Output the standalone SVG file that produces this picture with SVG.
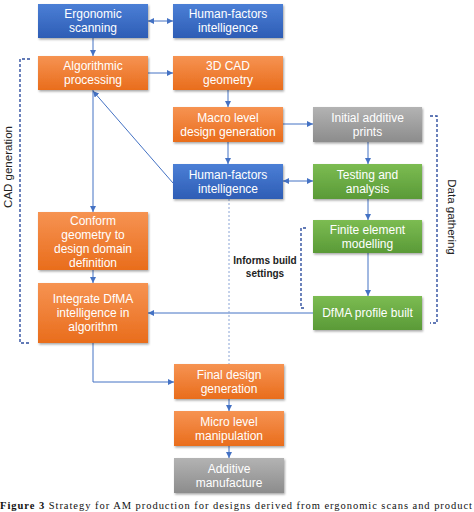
<svg xmlns="http://www.w3.org/2000/svg" width="474" height="512" viewBox="0 0 474 512">
<style>
.box{stroke:none;filter:url(#sh)}
.t{font-family:"Liberation Sans",Arial,sans-serif;font-size:12px;fill:#fff;text-anchor:middle}
.c{stroke:#4472c4;stroke-width:1;fill:none}
.br{stroke:#2f4f9f;stroke-width:1.4;fill:none;stroke-dasharray:3 2}
.lab{font-family:"Liberation Sans",Arial,sans-serif;font-size:11.5px;fill:#222;text-anchor:middle}
</style>
<defs>
<linearGradient id="gb" x1="0" y1="0" x2="0" y2="1"><stop offset="0" stop-color="#4b7fd6"/><stop offset="1" stop-color="#2e5db5"/></linearGradient>
<linearGradient id="go" x1="0" y1="0" x2="0" y2="1"><stop offset="0" stop-color="#f69352"/><stop offset="1" stop-color="#e96d1c"/></linearGradient>
<linearGradient id="gg" x1="0" y1="0" x2="0" y2="1"><stop offset="0" stop-color="#b3b3b3"/><stop offset="1" stop-color="#8c8c8c"/></linearGradient>
<linearGradient id="gn" x1="0" y1="0" x2="0" y2="1"><stop offset="0" stop-color="#7cbc52"/><stop offset="1" stop-color="#5a9a37"/></linearGradient>
<filter id="sh" x="-10%" y="-10%" width="130%" height="140%"><feDropShadow dx="1" dy="1.5" stdDeviation="1" flood-color="#000" flood-opacity="0.35"/></filter>
<marker id="a" viewBox="0 0 6 6" refX="6" refY="3" markerWidth="6" markerHeight="6" markerUnits="userSpaceOnUse" orient="auto-start-reverse"><path d="M0,0 L6,3 L0,6 z" fill="#4472c4"/></marker>
</defs>
<rect width="474" height="512" fill="#fff"/>

<g id="connectors">
<line class="c" x1="148" y1="21" x2="173" y2="21" marker-start="url(#a)" marker-end="url(#a)"/>
<line class="c" x1="93" y1="38" x2="93" y2="56" marker-end="url(#a)"/>
<line class="c" x1="148" y1="73" x2="173" y2="73" marker-end="url(#a)"/>
<line class="c" x1="228" y1="90" x2="228" y2="107" marker-end="url(#a)"/>
<line class="c" x1="283" y1="124" x2="313" y2="124" marker-end="url(#a)"/>
<line class="c" x1="228" y1="142" x2="228" y2="164" marker-end="url(#a)"/>
<line class="c" x1="173" y1="183" x2="93" y2="91" marker-end="url(#a)"/>
<line class="c" x1="93" y1="90" x2="93" y2="212" marker-end="url(#a)"/>
<line class="c" x1="93" y1="270" x2="93" y2="283" marker-end="url(#a)"/>
<line class="c" x1="283" y1="181" x2="313" y2="181" marker-start="url(#a)" marker-end="url(#a)"/>
<line class="c" x1="368" y1="142" x2="368" y2="164" marker-end="url(#a)"/>
<line class="c" x1="368" y1="199" x2="368" y2="220" marker-end="url(#a)"/>
<line class="c" x1="368" y1="253" x2="368" y2="296" marker-end="url(#a)"/>
<line class="c" x1="313" y1="313" x2="148" y2="313" marker-end="url(#a)"/>
<polyline class="c" points="93,343 93,382 174,382" marker-end="url(#a)"/>
<line x1="229" y1="199" x2="229" y2="364" stroke="#8aa4d6" stroke-width="1" stroke-dasharray="2 2"/>
<line class="c" x1="229" y1="399" x2="229" y2="411" marker-end="url(#a)"/>
<line class="c" x1="229" y1="446" x2="229" y2="458" marker-end="url(#a)"/>
<polyline class="br" points="30,59 20,59 20,343 30,343"/>
<polyline class="br" points="430,116 437,116 437,323 430,323"/>
<polyline class="br" points="306,228 301,228 301,308 306,308"/>
</g>

<g id="ergonomic"><rect class="box" x="38" y="4" width="110" height="34" fill="url(#gb)"/><text class="t" x="93" y="18.3">Ergonomic</text><text class="t" x="93" y="32.3">scanning</text></g>
<g id="hf1"><rect class="box" x="173" y="4" width="110" height="34" fill="url(#gb)"/><text class="t" x="228" y="18.3">Human-factors</text><text class="t" x="228" y="32.3">intelligence</text></g>
<g id="algorithmic"><rect class="box" x="38" y="56" width="110" height="34" fill="url(#go)"/><text class="t" x="93" y="70.3">Algorithmic</text><text class="t" x="93" y="84.3">processing</text></g>
<g id="cad"><rect class="box" x="173" y="56" width="110" height="34" fill="url(#go)"/><text class="t" x="228" y="70.3">3D CAD</text><text class="t" x="228" y="84.3">geometry</text></g>
<g id="macro"><rect class="box" x="173" y="107" width="110" height="35" fill="url(#go)"/><text class="t" x="228" y="121.5">Macro level</text><text class="t" x="228" y="135.5">design generation</text></g>
<g id="initial"><rect class="box" x="313" y="107" width="109" height="35" fill="url(#gg)"/><text class="t" x="367.5" y="121.5">Initial additive</text><text class="t" x="367.5" y="135.5">prints</text></g>
<g id="hf2"><rect class="box" x="173" y="164" width="110" height="35" fill="url(#gb)"/><text class="t" x="228" y="178.5">Human-factors</text><text class="t" x="228" y="192.5">intelligence</text></g>
<g id="testing"><rect class="box" x="313" y="164" width="109" height="35" fill="url(#gn)"/><text class="t" x="367.5" y="178.5">Testing and</text><text class="t" x="367.5" y="192.5">analysis</text></g>
<g id="fem"><rect class="box" x="313" y="220" width="109" height="33" fill="url(#gn)"/><text class="t" x="367.5" y="234">Finite element</text><text class="t" x="367.5" y="248">modelling</text></g>
<g id="dfma"><rect class="box" x="313" y="296" width="109" height="34" fill="url(#gn)"/><text class="t" x="367.5" y="317.3">DfMA profile built</text></g>
<g id="conform"><rect class="box" x="38" y="212" width="110" height="58" fill="url(#go)"/><text class="t" x="93" y="224.5">Conform</text><text class="t" x="93" y="238.5">geometry to</text><text class="t" x="93" y="252.5">design domain</text><text class="t" x="93" y="266.5">definition</text></g>
<g id="integrate"><rect class="box" x="38" y="283" width="110" height="60" fill="url(#go)"/><text class="t" x="93" y="303.3">Integrate DfMA</text><text class="t" x="93" y="317.3">intelligence in</text><text class="t" x="93" y="331.3">algorithm</text></g>
<g id="final"><rect class="box" x="174" y="364" width="110" height="35" fill="url(#go)"/><text class="t" x="229" y="378.5">Final design</text><text class="t" x="229" y="392.5">generation</text></g>
<g id="micro"><rect class="box" x="174" y="411" width="110" height="35" fill="url(#go)"/><text class="t" x="229" y="425.5">Micro level</text><text class="t" x="229" y="439.5">manipulation</text></g>
<g id="additive"><rect class="box" x="174" y="458" width="110" height="35" fill="url(#gg)"/><text class="t" x="229" y="472.5">Additive</text><text class="t" x="229" y="486.5">manufacture</text></g>

<g id="labels">
<text class="lab" transform="translate(12,167) rotate(-90)">CAD generation</text>
<text class="lab" transform="translate(448,217) rotate(90)">Data gathering</text>
<text class="lab" x="265" y="264" style="font-weight:bold;font-size:10px">Informs build</text>
<text class="lab" x="265" y="277" style="font-weight:bold;font-size:10px">settings</text>
<text x="0" y="509" font-family="'Liberation Serif','Times New Roman',serif" font-size="10.5" fill="#111" textLength="472" lengthAdjust="spacing"><tspan font-weight="bold">Figure 3</tspan> Strategy for AM production for designs derived from ergonomic scans and product</text>
</g>
</svg>
